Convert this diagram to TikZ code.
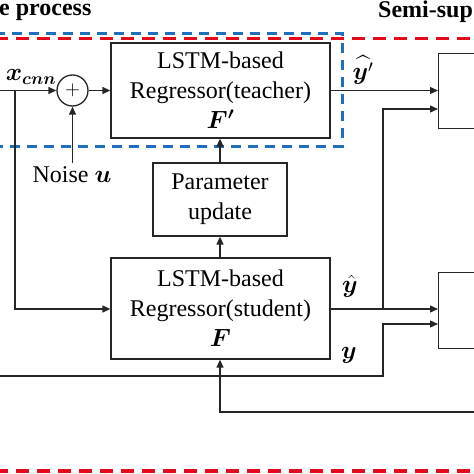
\documentclass[tikz,border=0pt]{standalone}
\usepackage{amsmath,bm}
\usepackage{fontspec}
\setmainfont{Liberation Serif}
\usetikzlibrary{arrows.meta}
\definecolor{dred}{RGB}{228,10,25}
\definecolor{dblue}{RGB}{30,112,190}
\tikzset{
  blk/.style={draw=black!85, line width=1.3pt, rectangle, align=center, inner sep=0pt},
  conn/.style={draw=black!85, line width=1.3pt},
  arr/.style={conn, -{Triangle[length=8pt,width=7pt]}},
  txt/.style={font=\fontsize{24}{30}\selectfont, inner sep=0pt},
  reddash/.style={draw=dred, line width=3.5pt, dash pattern=on 13pt off 8pt},
  bluedash/.style={draw=dblue, line width=3pt, dash pattern=on 10pt off 7pt},
}
\begin{document}
\begin{tikzpicture}[x=1pt,y=-1pt]
\useasboundingbox (0,0) rectangle (474,474);
\clip (0,0) rectangle (474,474);
% titles
\node[txt, anchor=base west, font=\fontsize{24}{30}\selectfont\bfseries] (t1) at (-1,15) {e process};
\node[txt, anchor=base west, font=\fontsize{24}{30}\selectfont\bfseries] (t2) at (378,17) {Semi-sup};
% dashed frames
\draw[bluedash] (-5,33) -- (342,33) -- (342,146) -- (-5,146);
\draw[reddash] (-5,38.5) -- (480,38.5);
\draw[reddash] (-5,471) -- (480,471);
% boxes
\node[blk, txt, minimum width=219pt, minimum height=95pt] (teacher) at (220.5,90.5)
  {LSTM-based\\Regressor(teacher)\\$\bm{F'}$};
\node[blk, txt, minimum width=134pt, minimum height=73pt] (param) at (220,199.5)
  {Parameter\\update};
\node[blk, txt, minimum width=219pt, minimum height=101pt] (student) at (220.5,308.5)
  {LSTM-based\\Regressor(student)\\$\bm{F}$};
\node[blk, minimum width=60pt, minimum height=75pt, anchor=north west] (rtop) at (438,53) {};
\node[blk, minimum width=60pt, minimum height=76pt, anchor=north west] (rbot) at (438,272) {};
\node[conn, circle, minimum size=31pt, inner sep=0pt] (sum) at (72.5,90.5) {};
\node[txt, font=\fontsize{22}{22}\selectfont] (plus) at (sum.center) {$+$};
% coordinates
\coordinate (in0) at (-2,90.5);
\coordinate (br) at (15,90.5);
\coordinate (nz) at (72.5,163);
\coordinate (jn) at (383,309);
\coordinate (yin) at (-2,376);
\coordinate (fb) at (480,412);
% connectors
\draw[arr] (in0) -- (sum.west);
\draw[arr] (br) |- (student.west |- jn);
\draw[arr] (sum.east) -- (teacher.west);
\draw[arr] (nz) -- (sum.south);
\draw[arr] (param.north) -- (teacher.south -| param.north);
\draw[arr] (student.north -| param.south) -- (param.south);
\draw[arr] (teacher.east) -- (teacher.east -| rtop.west);
\draw[arr] (student.east |- jn) -- (jn -| rbot.west);
\draw[arr] (jn) |- (383,109) -- (rtop.west |- 0,109);
\draw[arr] (yin) -| (383,324) -- (rbot.west |- 0,324);
\draw[arr] (fb) -| (student.south -| param.south);
% labels
\node[txt] (lx) at (31,77) {$\bm{x}_{\bm{cnn}}$};
\node[txt] (ln) at (72,175) {Noise $\bm{u}$};
\node[txt] (lyt) at (363,70) {$\widehat{\bm{y}'}$};
\node[txt] (lys) at (350,286) {$\hat{\bm{y}}$};
\node[txt] (ly) at (349,355) {$\bm{y}$};
\end{tikzpicture}
\end{document}
